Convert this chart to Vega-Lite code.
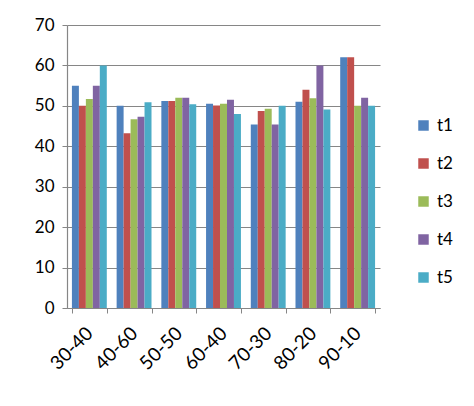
{
  "$schema": "https://vega.github.io/schema/vega-lite/v6.json",
  "width": 313,
  "height": 283,
  "autosize": {"type": "none"},
  "padding": {"left": 67, "top": 25, "right": 94, "bottom": 98},
  "background": "white",
  "data": {
    "values": [
      {"cat": "30-40", "s": "t1", "v": 55}, {"cat": "30-40", "s": "t2", "v": 50}, {"cat": "30-40", "s": "t3", "v": 51.7}, {"cat": "30-40", "s": "t4", "v": 55}, {"cat": "30-40", "s": "t5", "v": 60},
      {"cat": "40-60", "s": "t1", "v": 50}, {"cat": "40-60", "s": "t2", "v": 43.2}, {"cat": "40-60", "s": "t3", "v": 46.7}, {"cat": "40-60", "s": "t4", "v": 47.3}, {"cat": "40-60", "s": "t5", "v": 50.9},
      {"cat": "50-50", "s": "t1", "v": 51.2}, {"cat": "50-50", "s": "t2", "v": 51.2}, {"cat": "50-50", "s": "t3", "v": 52}, {"cat": "50-50", "s": "t4", "v": 52}, {"cat": "50-50", "s": "t5", "v": 50.4},
      {"cat": "60-40", "s": "t1", "v": 50.5}, {"cat": "60-40", "s": "t2", "v": 50.1}, {"cat": "60-40", "s": "t3", "v": 50.5}, {"cat": "60-40", "s": "t4", "v": 51.5}, {"cat": "60-40", "s": "t5", "v": 48},
      {"cat": "70-30", "s": "t1", "v": 45.4}, {"cat": "70-30", "s": "t2", "v": 48.7}, {"cat": "70-30", "s": "t3", "v": 49.3}, {"cat": "70-30", "s": "t4", "v": 45.4}, {"cat": "70-30", "s": "t5", "v": 50},
      {"cat": "80-20", "s": "t1", "v": 51}, {"cat": "80-20", "s": "t2", "v": 54}, {"cat": "80-20", "s": "t3", "v": 51.9}, {"cat": "80-20", "s": "t4", "v": 60}, {"cat": "80-20", "s": "t5", "v": 49.1},
      {"cat": "90-10", "s": "t1", "v": 62}, {"cat": "90-10", "s": "t2", "v": 62}, {"cat": "90-10", "s": "t3", "v": 50}, {"cat": "90-10", "s": "t4", "v": 52}, {"cat": "90-10", "s": "t5", "v": 50}
    ]
  },
  "mark": {"type": "bar"},
  "encoding": {
    "x": {
      "field": "cat", "type": "nominal", "sort": null,
      "scale": {"paddingInner": 0.22, "paddingOuter": 0.11},
      "axis": {
        "title": null, "labelAngle": -45, "labelAlign": "right", "labelBaseline": "middle",
        "labelFont": "Lato", "labelFontSize": 19, "labelColor": "black", "labelPadding": 17,
        "tickBand": "extent", "tickColor": "#868686", "tickSize": 5, "domainColor": "#868686",
        "grid": false
      }
    },
    "xOffset": {"field": "s", "type": "nominal", "scale": {"paddingInner": 0, "paddingOuter": 0}},
    "y": {
      "field": "v", "type": "quantitative",
      "scale": {"domain": [0, 70], "nice": false},
      "axis": {
        "title": null, "values": [0, 10, 20, 30, 40, 50, 60, 70],
        "labelFont": "Lato", "labelFontSize": 17, "labelColor": "black", "labelPadding": 8,
        "tickColor": "#868686", "tickSize": 5, "domainColor": "#868686",
        "gridColor": "#868686", "gridWidth": 1.2
      }
    },
    "color": {
      "field": "s", "type": "nominal",
      "scale": {"domain": ["t1", "t2", "t3", "t4", "t5"], "range": ["#4F81BD", "#C0504D", "#9BBB59", "#8064A2", "#4BACC6"]},
      "legend": {
        "title": null, "orient": "none", "legendX": 348, "legendY": 92,
        "symbolType": "square", "symbolSize": 110, "symbolStrokeWidth": 0,
        "labelFont": "Lato", "labelFontSize": 17, "labelColor": "black",
        "rowPadding": 20, "labelOffset": 5
      }
    }
  },
  "config": {"view": {"stroke": null}, "axis": {"domainWidth": 1.2}}
}
